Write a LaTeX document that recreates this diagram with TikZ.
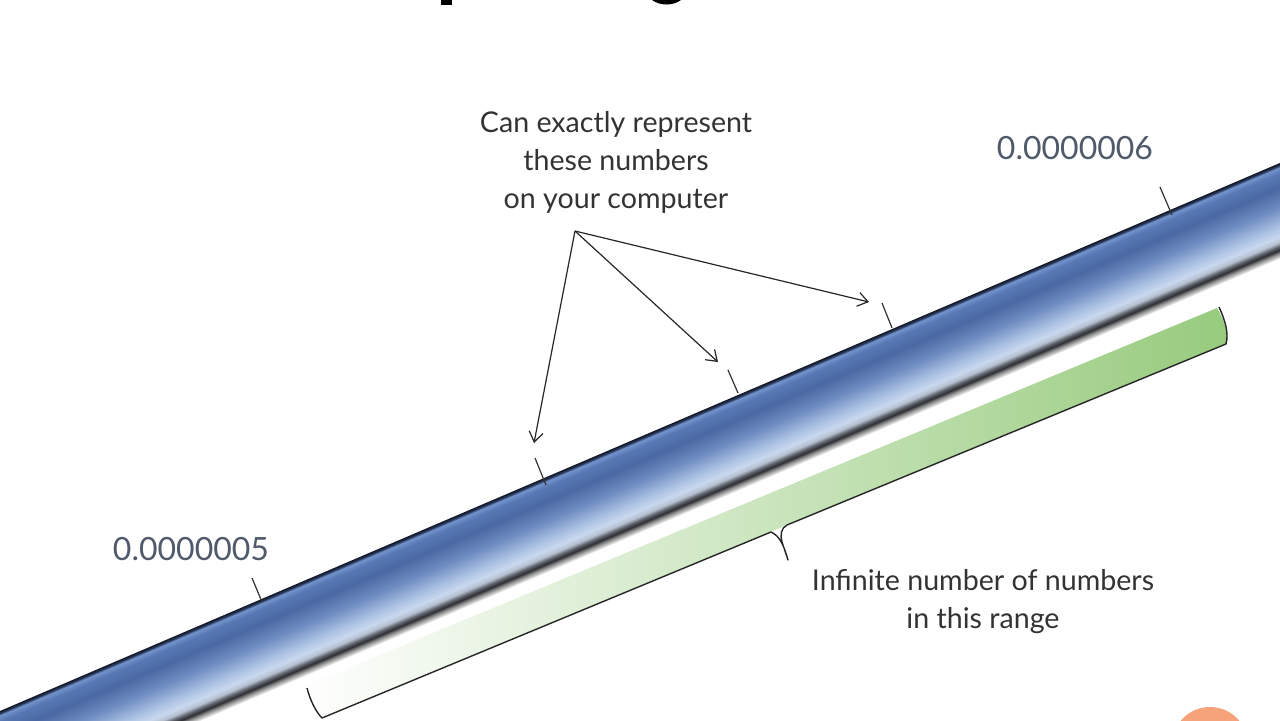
\documentclass[tikz,border=0pt]{standalone}
\usepackage{fontspec}
\setmainfont{Lato}
\usetikzlibrary{arrows.meta}
\definecolor{tubeA}{HTML}{111827}
\definecolor{tubeB}{HTML}{2A3A5E}
\definecolor{tubeC}{HTML}{7393CC}
\definecolor{tubeD}{HTML}{5878B5}
\definecolor{tubeE}{HTML}{4A69A3}
\definecolor{tubeF}{HTML}{6F8DC2}
\definecolor{tubeG}{HTML}{A9BFE2}
\definecolor{tubeH}{HTML}{C9D8EF}
\definecolor{tubeI}{HTML}{B5C0CF}
\definecolor{tubeJ}{HTML}{5A5D66}
\definecolor{tubeK}{HTML}{2F3035}
\definecolor{tubeL}{HTML}{8A8A8A}
\definecolor{greenR}{HTML}{97CB7D}
\definecolor{greenM}{HTML}{DCEBD0}
\definecolor{txt}{HTML}{333333}
\definecolor{numtxt}{HTML}{505A6A}
\definecolor{orangec}{HTML}{F6A27A}
\pgfdeclareverticalshading{tubeshade}{100bp}{color(0bp)=(white); color(25bp)=(white); color(27.91bp)=(tubeL); color(29.65bp)=(tubeK); color(31.4bp)=(tubeJ); color(33.72bp)=(tubeI); color(36.63bp)=(tubeH); color(42.44bp)=(tubeG); color(51.74bp)=(tubeF); color(62.21bp)=(tubeE); color(69.77bp)=(tubeD); color(72.67bp)=(tubeC); color(73.84bp)=(tubeB); color(75bp)=(tubeA); color(100bp)=(tubeA)}
\tikzset{
  lbl/.style={text=txt, font=\fontsize{14.3}{19}\selectfont, align=center, inner sep=0pt},
  numlbl/.style={text=numtxt, font=\fontsize{16}{19}\selectfont, inner sep=0pt},
  tick/.style={draw=txt, line width=0.6pt},
  pointer/.style={draw=black!85, line width=0.6pt, -{Straight Barb[length=5pt,width=7pt]}},
  bracket/.style={draw=black!85, line width=0.7pt, line join=round}
}
\begin{document}
\begin{tikzpicture}[x=0.5pt,y=-0.5pt]
\useasboundingbox (0,0) rectangle (1280,720);
\clip (0,0) rectangle (1280,720);
\fill[white] (0,0) rectangle (1280,720);
% title fragments cut at the top
\fill[black] (441,0) rectangle (452,5);
\fill[black] (652,0) .. controls (660,6) and (673,6) .. (681,0) -- cycle;
% green range band
\shade[left color=white, middle color=greenM, right color=greenR]
  (300,688) -- (1217,308) .. controls (1224,320) and (1229,333) .. (1226,344) -- (300,726) -- cycle;
% tube
\begin{scope}[transform canvas={shift={(0pt,-355.5pt)}, rotate=23.18}]
  \shade[shading=tubeshade] (-60,0) rectangle (1500,88);
\end{scope}
% ticks
\coordinate (t1a) at (252,578); \coordinate (t1b) at (262,602);
\coordinate (t2a) at (535,458); \coordinate (t2b) at (546,485);
\coordinate (t3a) at (728,370); \coordinate (t3b) at (738,393);
\coordinate (t4a) at (882,303); \coordinate (t4b) at (892,328);
\coordinate (t5a) at (1160,187); \coordinate (t5b) at (1172,215);
\draw[tick] (t1a) -- (t1b);
\draw[tick] (t2a) -- (t2b);
\draw[tick] (t3a) -- (t3b);
\draw[tick] (t4a) -- (t4b);
\draw[tick] (t5a) -- (t5b);
% bracket
\draw[bracket] (1219,307) .. controls (1225,320) and (1229,333) .. (1226,344) -- (787,525)
  .. controls (781,528) and (780,535) .. (782,542) -- (788,560)
  .. controls (784,546) and (780,536) .. (771,532) -- (322,718)
  .. controls (316,712) and (310,700) .. (307,688);
% labels
\node[lbl] (can) at (616,162) {Can exactly represent\\these numbers\\on your computer};
\node[numlbl] (hi) at (1075,148) {0.0000006};
\node[numlbl] (lo) at (191,549) {0.0000005};
\node[lbl] (inf) at (983,602) {Infinite number of numbers\\in this range};
% pointers
\coordinate (src) at (575,231);
\coordinate (p1) at (534,443);
\coordinate (p2) at (718,362);
\coordinate (p3) at (869,302);
\draw[pointer] (src) -- (p1);
\draw[pointer] (src) -- (p2);
\draw[pointer] (src) -- (p3);
% orange corner disc
\fill[orangec] (1210,745) circle (38);
\end{tikzpicture}
\end{document}
